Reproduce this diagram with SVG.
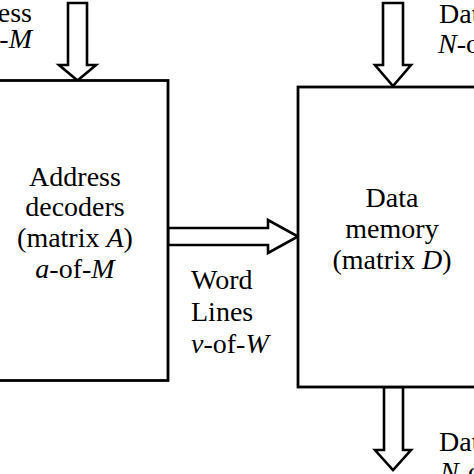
<svg xmlns="http://www.w3.org/2000/svg" width="474" height="474" viewBox="0 0 474 474">
<style>
.box{fill:#fff;stroke:#000;stroke-width:2.8}
.arr{fill:#fff;stroke:#000;stroke-width:2.6;stroke-linejoin:miter}
text{font-family:"Liberation Serif","Times New Roman",serif;font-size:28px;fill:#000}
.c{text-anchor:middle}
.i{font-style:italic}
</style>
<rect width="474" height="474" fill="#fff"/>
<g id="connectors">
<path class="arr" d="M68,3 H87 V65 H96 L77.5,80.5 L59,65 H68 Z"/>
<path class="arr" d="M383,3 H403 V65 H411 L393,86 L375,65 H383 Z"/>
<path class="arr" d="M168,228 H268 V220 L298,236.5 L268,253 V245 H168 Z"/>
<path class="arr" d="M384,387 H403 V450 H411 L393,470 L375,450 H384 Z"/>
</g>
<g id="address-decoders">
<rect class="box" x="-10" y="80.5" width="178" height="300"/>
<text class="c" x="75" y="186">Address</text>
<text class="c" x="75" y="216">decoders</text>
<text class="c" x="75" y="247">(matrix <tspan class="i">A</tspan>)</text>
<text class="c" x="75" y="278"><tspan class="i">a</tspan>-of-<tspan class="i">M</tspan></text>
</g>
<g id="data-memory">
<rect class="box" x="298" y="87" width="190" height="300"/>
<text class="c" x="392" y="207">Data</text>
<text class="c" x="392" y="238">memory</text>
<text class="c" x="392" y="269">(matrix <tspan class="i">D</tspan>)</text>
</g>
<g id="word-lines-label">
<text x="191" y="289">Word</text>
<text x="191" y="321">Lines</text>
<text x="191" y="353"><tspan class="i">v</tspan>-of-<tspan class="i">W</tspan></text>
</g>
<g id="address-label">
<text x="32" y="22" text-anchor="end">Address</text>
<text x="32" y="48" text-anchor="end"><tspan class="i">a</tspan>-of-<tspan class="i">M</tspan></text>
</g>
<g id="data-in-label">
<text x="439" y="23">Data</text>
<text x="438" y="53"><tspan class="i">N</tspan>-of-<tspan class="i">N</tspan></text>
</g>
<g id="data-out-label">
<text x="439" y="451">Data</text>
<text x="440" y="481"><tspan class="i">N</tspan>-of-<tspan class="i">N</tspan></text>
</g>
</svg>
